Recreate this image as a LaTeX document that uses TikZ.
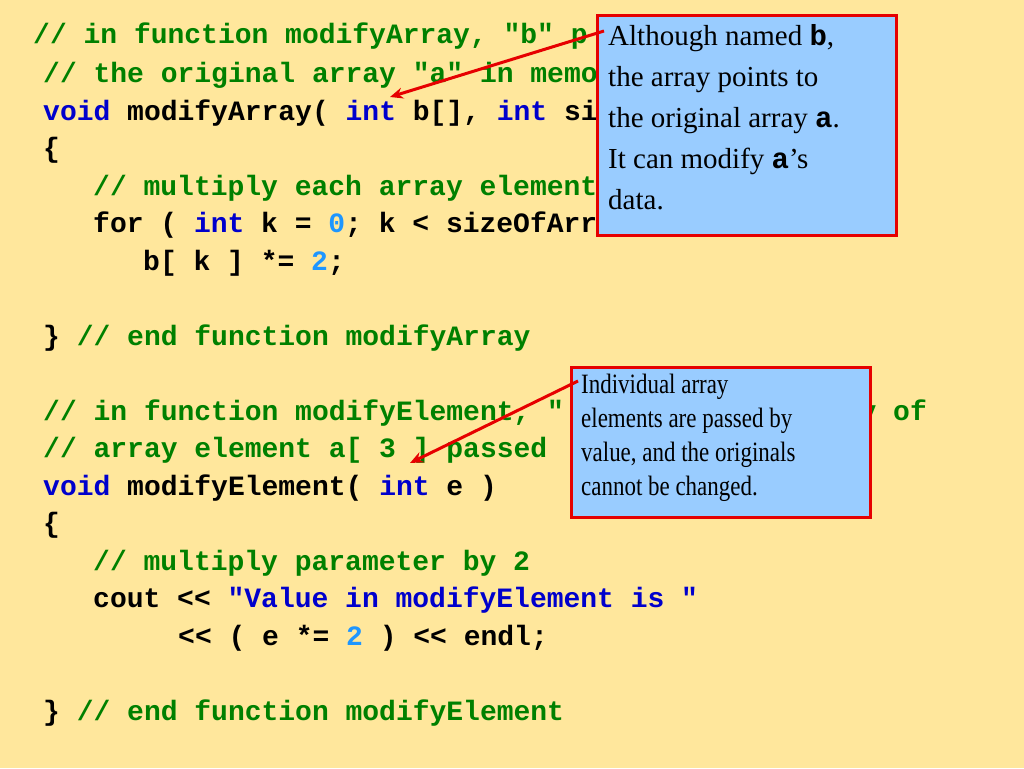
\documentclass[tikz,border=0pt]{standalone}
\usepackage{fontspec}
\setmainfont{Liberation Serif}
\setmonofont{Liberation Mono}
\newfontfamily\narrowserif[FakeStretch=0.82]{Liberation Serif}
\usetikzlibrary{arrows.meta}
\definecolor{bg}{RGB}{255,231,156}
\definecolor{cm}{RGB}{0,128,0}
\definecolor{kw}{RGB}{0,0,204}
\definecolor{nm}{RGB}{30,150,255}
\definecolor{boxfill}{RGB}{153,204,255}
\definecolor{bred}{RGB}{230,0,0}
\newcommand{\C}[1]{\textcolor{cm}{#1}}
\newcommand{\K}[1]{\textcolor{kw}{#1}}
\newcommand{\N}[1]{\textcolor{nm}{#1}}
\tikzset{
 code/.style={anchor=base west,inner sep=0pt,font=\fontsize{28}{30}\selectfont\ttfamily\bfseries},
 notebox/.style={draw=bred,line width=3pt,fill=boxfill},
 notetext/.style={anchor=north west,inner sep=0pt,align=flush left},
 arr/.style={draw=bred,line width=3pt,-{Stealth[length=13pt,width=11pt]}}
}
\begin{document}
\begin{tikzpicture}[x=1pt,y=-1pt]
\fill[bg] (0,0) rectangle (1024,768);
\useasboundingbox (0,0) rectangle (1024,768);
\node[code] (l1) at (33,44) {\C{// in function modifyArray, "b" p}};
\node[code] (l2) at (43,82) {\C{// the original array "a" in memo}};
\node[code] (l3) at (43,120) {\K{void} modifyArray( \K{int} b[], \K{int} si};
\node[code] (l4) at (43,157) {\{};
\node[code] (l5) at (93,195) {\C{// multiply each array element}};
\node[code] (l6) at (93,232) {for ( \K{int} k = \N{0}; k < sizeOfArr};
\node[code] (l7) at (143,270) {b[ k ] *= \N{2};};
\node[code] (l8) at (43,345) {\} \C{// end function modifyArray}};
\node[code] (l9) at (43,420) {\C{// in function modifyElement, "}};
\node[code,anchor=base east] (l9b) at (927,420) {\C{y of}};
\node[code] (l10) at (43,457) {\C{// array element a[ 3 ] passed}};
\node[code] (l11) at (43,495) {\K{void} modifyElement( \K{int} e )};
\node[code] (l12) at (43,532) {\{};
\node[code] (l13) at (93,570) {\C{// multiply parameter by 2}};
\node[code] (l14) at (93,607) {cout << \K{"Value in modifyElement is "}};
\node[code] (l15) at (178,645) {<< ( e *= \N{2} ) << endl;};
\node[code] (l16) at (43,720) {\} \C{// end function modifyElement}};

\path[notebox] (597,16) rectangle (896,235);
\node[notetext,font=\fontsize{29}{41}\selectfont] (n1) at (608,24)
 {Although named \texttt{\textbf{b}},\\the array points to\\the original array \texttt{\textbf{a}}.\\It can modify \texttt{\textbf{a}}'s\\data.};
\path[notebox] (571,367) rectangle (870,517);
\node[notetext,font=\narrowserif\fontsize{28}{34}\selectfont] (n2) at (581,374)
 {Individual array\\elements are passed by\\value, and the originals\\cannot be changed.};
\coordinate (t1) at (390,97);
\coordinate (t2) at (410,463);
\draw[arr] (604,31) -- (t1);
\draw[arr] (578,381) -- (t2);
\end{tikzpicture}
\end{document}
